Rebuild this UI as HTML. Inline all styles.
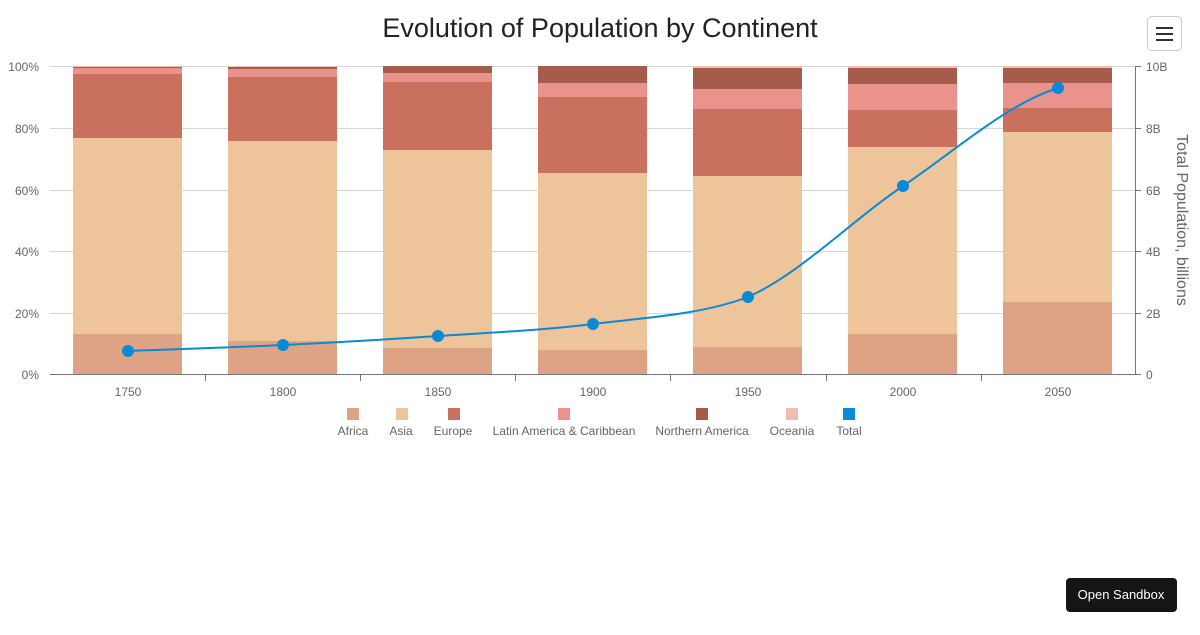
<!DOCTYPE html><html><head><style>body{margin:0;background:#fff;font-family:"Liberation Sans",sans-serif}</style></head><body>
<svg width="1200" height="630" xmlns="http://www.w3.org/2000/svg" font-family="Liberation Sans, sans-serif">
<text x="600" y="37" text-anchor="middle" font-size="27" fill="#222">Evolution of Population by Continent</text>
<rect x="1147.5" y="16.5" width="34" height="34" rx="4" fill="#fff" stroke="#ccc"/>
<g stroke="#333" stroke-width="2"><line x1="1156" y1="28" x2="1173" y2="28"/><line x1="1156" y1="34" x2="1173" y2="34"/><line x1="1156" y1="40" x2="1173" y2="40"/></g>
<g stroke="#d6d6d6" stroke-width="1">
<line x1="50" y1="66.5" x2="1135" y2="66.5"/><line x1="50" y1="128.5" x2="1135" y2="128.5"/><line x1="50" y1="190.5" x2="1135" y2="190.5"/><line x1="50" y1="251.5" x2="1135" y2="251.5"/><line x1="50" y1="313.5" x2="1135" y2="313.5"/></g>
<g id="bars"></g>
<g stroke="#777"><line x1="50" y1="374.5" x2="1136" y2="374.5"/><line x1="1135.5" y1="66" x2="1135.5" y2="375"/>
<line x1="205.5" y1="375" x2="205.5" y2="381"/><line x1="360.5" y1="375" x2="360.5" y2="381"/><line x1="515.5" y1="375" x2="515.5" y2="381"/><line x1="670.5" y1="375" x2="670.5" y2="381"/><line x1="826.5" y1="375" x2="826.5" y2="381"/><line x1="981.5" y1="375" x2="981.5" y2="381"/>
<line x1="1135" y1="66.5" x2="1141" y2="66.5"/><line x1="1135" y1="128.5" x2="1141" y2="128.5"/><line x1="1135" y1="190.5" x2="1141" y2="190.5"/><line x1="1135" y1="251.5" x2="1141" y2="251.5"/><line x1="1135" y1="313.5" x2="1141" y2="313.5"/><line x1="1135" y1="374.5" x2="1141" y2="374.5"/></g>
<g font-size="12" fill="#666" text-anchor="end">
<text x="39" y="71">100%</text><text x="39" y="133">80%</text><text x="39" y="195">60%</text><text x="39" y="256">40%</text><text x="39" y="318">20%</text><text x="39" y="379">0%</text></g>
<g font-size="12" fill="#666">
<text x="1146" y="71">10B</text><text x="1146" y="133">8B</text><text x="1146" y="195">6B</text><text x="1146" y="256">4B</text><text x="1146" y="318">2B</text><text x="1146" y="379">0</text></g>
<text transform="translate(1177,220) rotate(90)" text-anchor="middle" font-size="16" fill="#666">Total Population, billions</text>
<g font-size="12" fill="#666" text-anchor="middle">
<text x="128" y="396">1750</text><text x="283" y="396">1800</text><text x="438" y="396">1850</text><text x="593" y="396">1900</text><text x="748" y="396">1950</text><text x="903" y="396">2000</text><text x="1058" y="396">2050</text></g>
<path d="M128,351 C153.8,350 231.3,347.5 283,345 C334.7,342.5 386.3,339.5 438,336 C489.7,332.5 541.3,330.5 593,324 C644.7,317.5 700,315 748,297 C799.7,274 851.3,220.8 903,186 C954.7,151.2 1006.3,104.3 1058,88" fill="none" stroke="#0a8ad6" stroke-width="2"/>
<g fill="#0a8ad6"><circle cx="128" cy="351" r="6"/><circle cx="283" cy="345" r="6"/><circle cx="438" cy="336" r="6"/><circle cx="593" cy="324" r="6"/><circle cx="748" cy="297" r="6"/><circle cx="903" cy="186" r="6"/><circle cx="1058" cy="88" r="6"/></g>
<g font-size="12" fill="#666" text-anchor="middle">
<rect x="347" y="408" width="12" height="12" fill="#dea284"/><text x="353" y="435">Africa</text>
<rect x="396" y="408" width="12" height="12" fill="#eec59a"/><text x="401" y="435">Asia</text>
<rect x="448" y="408" width="12" height="12" fill="#ca705e"/><text x="453" y="435">Europe</text>
<rect x="558" y="408" width="12" height="12" fill="#ea938d"/><text x="564" y="435">Latin America &amp; Caribbean</text>
<rect x="696" y="408" width="12" height="12" fill="#a65c4b"/><text x="702" y="435">Northern America</text>
<rect x="786" y="408" width="12" height="12" fill="#f4bdb0"/><text x="792" y="435">Oceania</text>
<rect x="843" y="408" width="12" height="12" fill="#0a8ad6"/><text x="849" y="435">Total</text></g>
<rect x="1066" y="578" width="111" height="34" rx="4" fill="#151515"/>
<text x="1121" y="599" text-anchor="middle" font-size="13" fill="#fff">Open Sandbox</text>
</svg>
<script>
var xs=[73,228,383,538,693,848,1003];
var b=[[334,138,74,68,67,66],[341,141,77,69,67,66],[348,150,82,73,66,66],[350,173,97,83,66,66],[347,176,109,89,68,66],[334,147,110,84,68,66],[302,132,108,83,68,66]];
var c=["#dea284","#eec59a","#ca705e","#ea938d","#a65c4b","#f4bdb0"];
var s="";
for(var i=0;i<7;i++){var prev=375;for(var k=0;k<6;k++){var y=b[i][k];var h=prev-y;if(k==5){y=66;h=prev-66;}if(h>0)s+='<rect x="'+xs[i]+'" y="'+y+'" width="109" height="'+h+'" fill="'+c[k]+'"/>';prev=y;}}
document.getElementById("bars").innerHTML=s;
</script>
</body></html>
